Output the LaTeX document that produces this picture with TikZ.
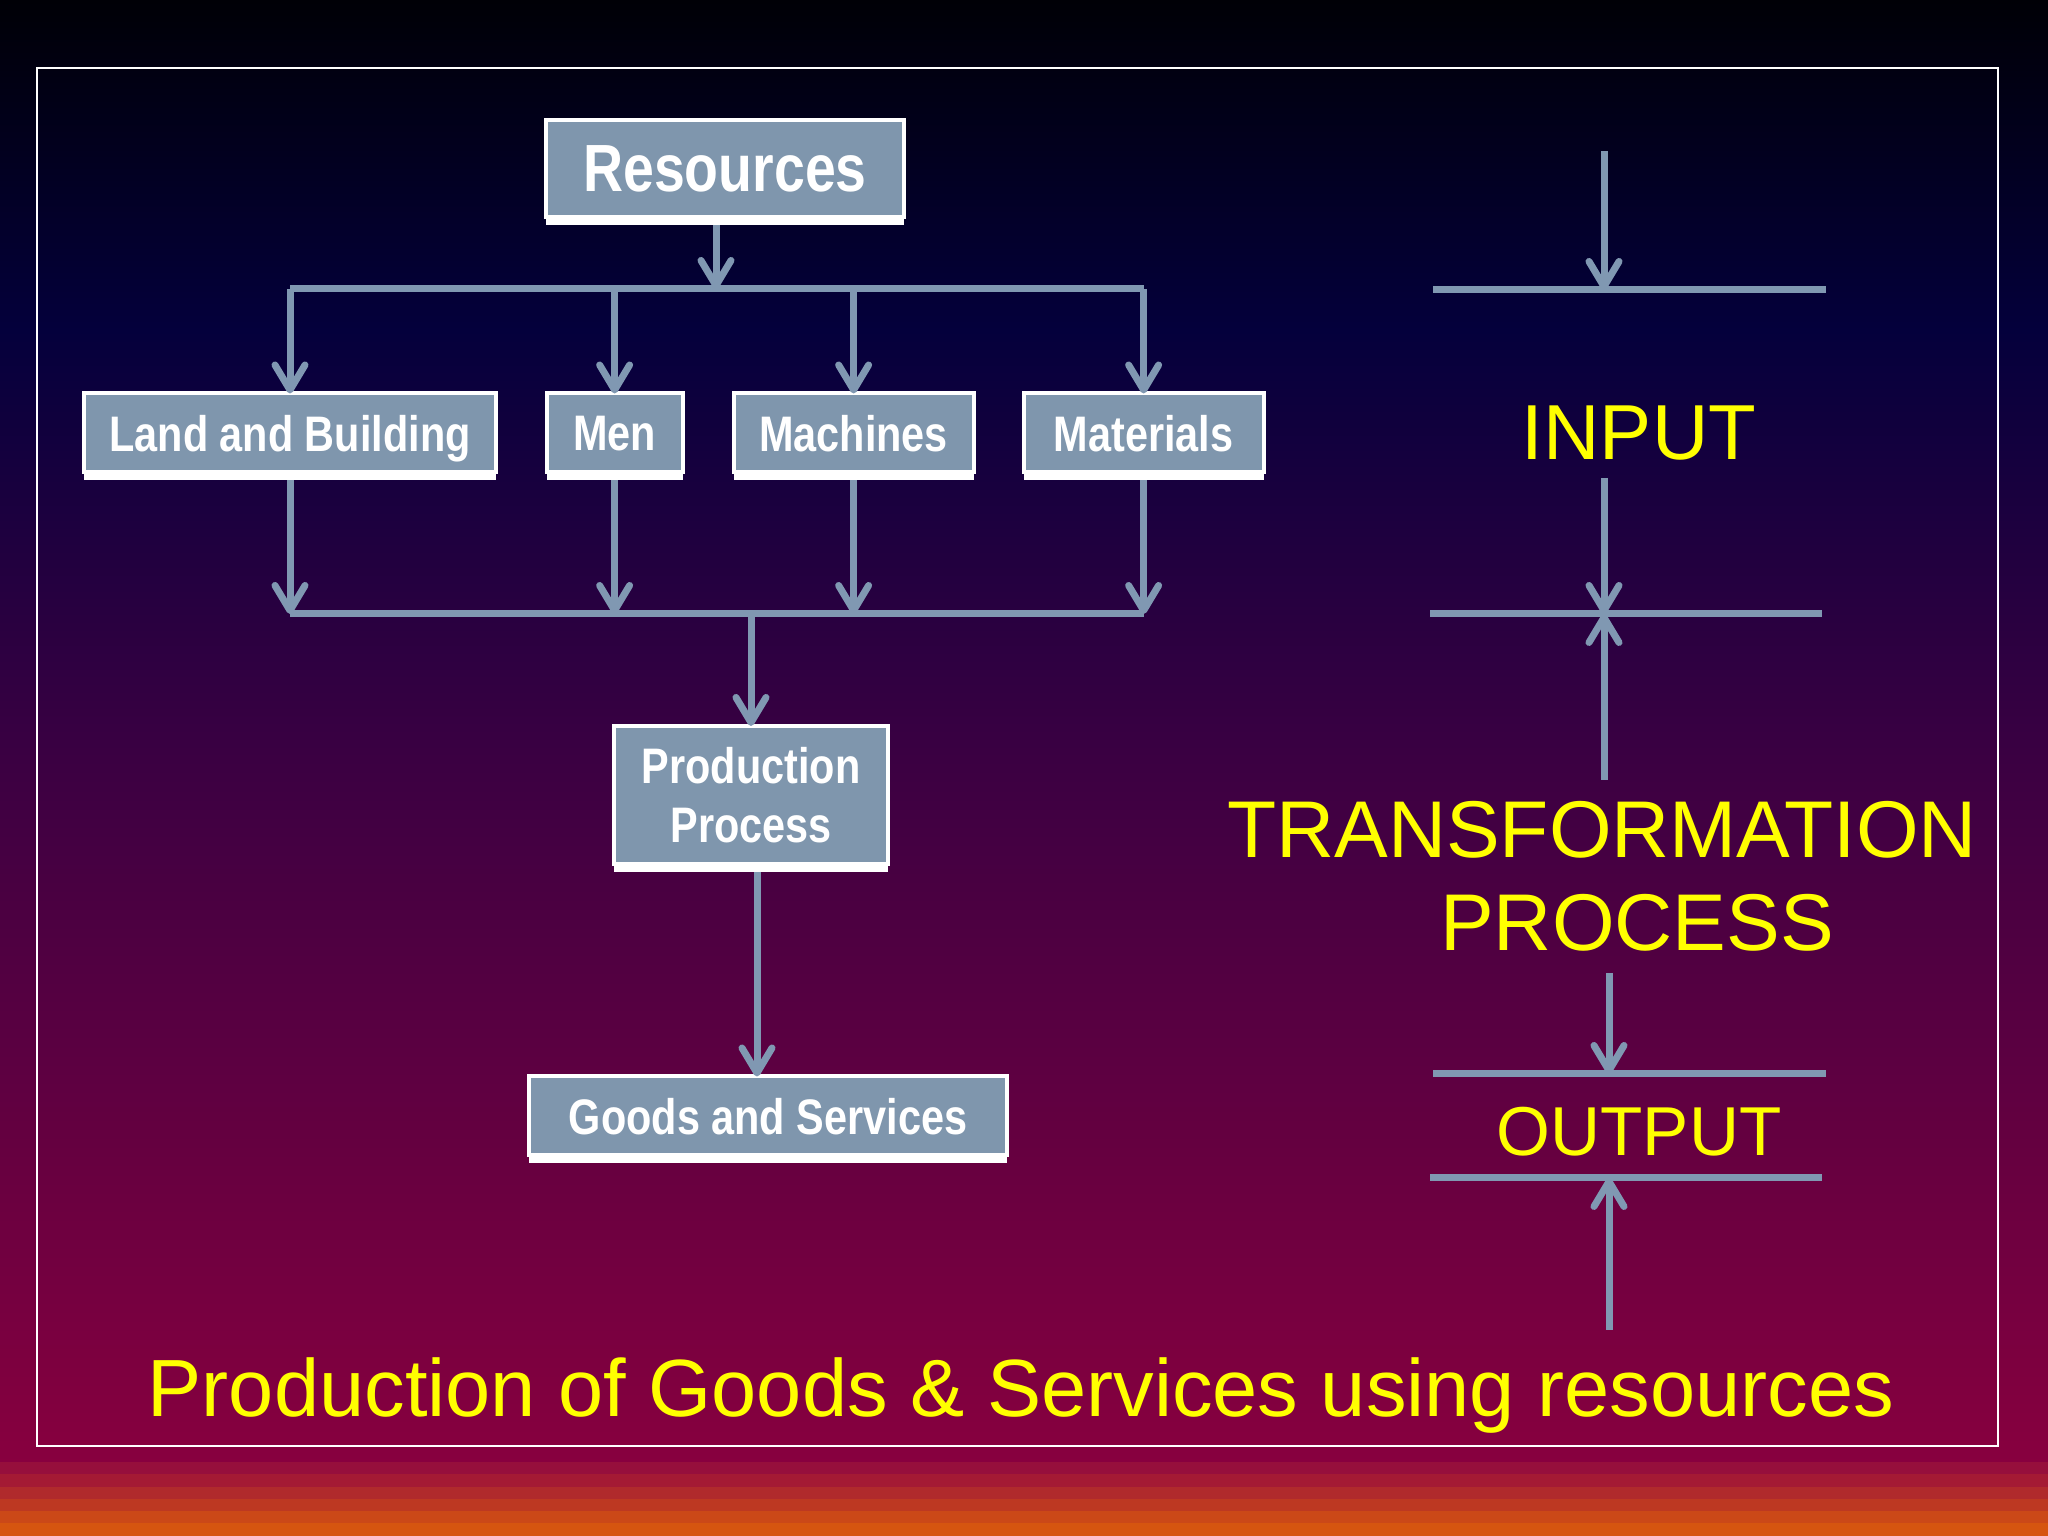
\documentclass[tikz,border=0pt]{standalone}
\usepackage{fontspec}
\setmainfont{Liberation Sans}
\newfontfamily\boxfont[FakeStretch=0.83]{Liberation Sans}
\usetikzlibrary{arrows.meta,positioning,shadows}
\definecolor{cbgtop}{HTML}{000006}
\definecolor{cbgnavy}{HTML}{04003C}
\definecolor{cbgpurple}{HTML}{3A0042}
\definecolor{cbgmagenta}{HTML}{88003F}
\definecolor{cboxfill}{HTML}{7F96AD}
\definecolor{carrow}{HTML}{8098B2}
\definecolor{cyellow}{HTML}{FFFF00}
\definecolor{cstripeA}{HTML}{960F3C}
\definecolor{cstripeB}{HTML}{A41A34}
\definecolor{cstripeC}{HTML}{B02A2C}
\definecolor{cstripeD}{HTML}{BD3822}
\definecolor{cstripeE}{HTML}{CB4818}
\definecolor{cstripeF}{HTML}{D65510}

\begin{document}
\begin{tikzpicture}[
    >={Straight Barb[length=0.25cm,width=0.3cm,round]},
    flow/.style={->,line width=0.07cm,carrow},
    splitline/.style={line width=0.07cm,carrow},
    resbox/.style={
        draw=white, line width=0.04cm, fill=cboxfill, outer sep=0pt,
        text=white, align=center, inner xsep=0.25cm, text depth=-0.08cm,
        minimum height=0.79cm,
        font=\boxfont\bfseries\fontsize{14.2}{17}\selectfont,
        drop shadow={shadow xshift=0cm,shadow yshift=-0.08cm,fill=white,opacity=1},
    },
    yeltext/.style={text=cyellow,font=\fontsize{22.2}{26.5}\selectfont},
]
\useasboundingbox (0,0) rectangle (20.48,15.36);

% ============================================================
% BACKGROUND
% ============================================================
\shade[top color=cbgtop,bottom color=cbgnavy] (0,15.36) rectangle (20.48,12.05);
\shade[top color=cbgnavy,bottom color=cbgpurple] (0,12.06) rectangle (20.48,7.85);
\shade[top color=cbgpurple,bottom color=cbgmagenta] (0,7.86) rectangle (20.48,0.73);
\foreach \i/\col in {0/cstripeA,1/cstripeB,2/cstripeC,3/cstripeD,4/cstripeE,5/cstripeF} {
    \fill[\col] (0,{0.74-\i*0.123}) rectangle (20.48,{0.74-(\i+1)*0.123-0.005});
}
\draw[white,line width=0.025cm] (0.37,0.90) rectangle (19.98,14.68);

% ============================================================
% RESOURCES
% ============================================================
\node[resbox, minimum width=3.58cm, minimum height=0.97cm,
    font=\boxfont\bfseries\fontsize{19}{22}\selectfont] (res) at (7.25,13.67) {Resources};

\node[resbox, minimum width=4.10cm] (land) at (2.90,11.03) {Land and Building};
\node[resbox, minimum width=1.36cm, right=0.51cm of land] (men) {Men};
\node[resbox, minimum width=2.40cm, right=0.51cm of men] (mach) {Machines};
\node[resbox, minimum width=2.40cm, right=0.50cm of mach] (mat) {Materials};

% split bar
\coordinate (splitL) at (2.90,12.47);
\coordinate (splitR) at (11.44,12.47);
\draw[splitline] (splitL) -- (splitR);
\draw[flow] ([xshift=-0.09cm,yshift=-0.08cm]res.south) -- ([xshift=-0.09cm]res.south |- splitL);
\foreach \n in {land,men,mach,mat} {
    \draw[flow] (\n.north |- splitL) -- (\n.north);
}

% join bar
\coordinate (joinL) at (2.90,9.22);
\coordinate (joinR) at (11.44,9.22);
\draw[splitline] (joinL) -- (joinR);
\foreach \n in {land,men,mach,mat} {
    \draw[flow] ([yshift=-0.08cm]\n.south) -- (\n.south |- joinL);
}

% ============================================================
% PRODUCTION
% ============================================================
\node[resbox, minimum width=2.74cm, minimum height=1.38cm] (prod) at (7.51,7.41) {Production\\Process};
\draw[flow] (prod.north |- joinL) -- (prod.north);

\node[resbox, minimum width=4.78cm] (goods) at (7.68,4.20) {Goods and Services};
\draw[flow] ([xshift=0.06cm,yshift=-0.08cm]prod.south) -- ([xshift=0.06cm]prod.south |- goods.north);

% ============================================================
% RIGHT SIDE
% ============================================================
\coordinate (inTop) at (16.04,13.85);
\coordinate (inL) at (14.33,12.46);
\coordinate (inR) at (18.26,12.46);
\draw[splitline] (inL) -- (inR);
\draw[flow] (inTop) -- (inTop |- inL);

\node[yeltext, anchor=base] (input) at (16.39,10.76) {INPUT};

\coordinate (midL) at (14.30,9.22);
\coordinate (midR) at (18.22,9.22);
\draw[splitline] (midL) -- (midR);
\draw[flow] ([yshift=-0.18cm]input.base -| inTop) -- (inTop |- midL);

\node[yeltext, align=center, font=\fontsize{22.9}{26.5}\selectfont] (trans) at (16.02,6.60)
    {TRANSFORMATION\\\hspace*{0.70cm}PROCESS};
\draw[flow] ([yshift=0.09cm]trans.north -| inTop) -- (inTop |- midL);

\coordinate (outX) at (16.09,5.63);
\coordinate (outL) at (14.33,4.62);
\coordinate (outR) at (18.26,4.62);
\draw[splitline] (outL) -- (outR);
\draw[flow] (outX) -- (outX |- outL);

\node[yeltext, anchor=base, font=\fontsize{19.7}{23}\selectfont] (output) at (16.39,3.80) {OUTPUT};

\coordinate (botL) at (14.30,3.58);
\coordinate (botR) at (18.22,3.58);
\coordinate (outBot) at (16.09,2.06);
\draw[splitline] (botL) -- (botR);
\draw[flow] (outBot) -- (outBot |- botL);

% ============================================================
% CAPTION
% ============================================================
\node[yeltext, anchor=base, font=\fontsize{23.1}{27}\selectfont] (caption) at (10.21,1.19)
    {Production of Goods \& Services using resources};

\end{tikzpicture}
\end{document}
